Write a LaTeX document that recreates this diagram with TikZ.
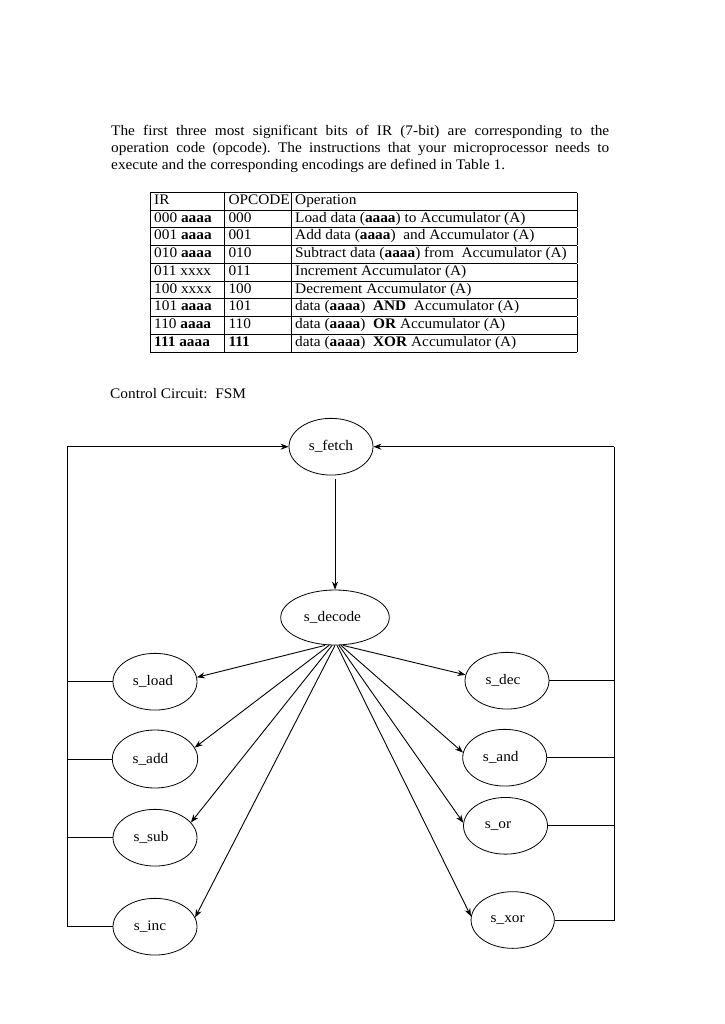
\documentclass[tikz,border=0pt]{standalone}
\usepackage{fontspec}
\setmainfont{Liberation Serif}[FakeStretch=1.05]
\usetikzlibrary{shapes.geometric,arrows.meta}
\newcommand\myfs{\fontsize{14.6pt}{16.7pt}\selectfont}
\newcommand\lsh[1]{\hspace*{#1}}
\frenchspacing
\begin{document}
\begin{tikzpicture}[x=1pt,y=-1pt,
  state/.style={draw, ellipse, line width=0.8pt, minimum width=84pt, minimum height=56.7pt, inner sep=0pt, font=\myfs},
  conn/.style={line width=0.9pt},
  arr/.style={conn, -{Stealth[length=8pt,width=6pt]}},
  txt/.style={inner sep=0pt, font=\myfs}]
\useasboundingbox (0,0) rectangle (724,1024);
\fill[white] (0,0) rectangle (724,1024);

% paragraph
\node[txt, anchor=base west, text width=498pt, align=justify] (para) at (111,136)
 {The first three most significant bits of IR (7-bit) are corresponding to the\linebreak
  operation code (opcode). The instructions that your microprocessor needs to\linebreak
  execute and the corresponding encodings are defined in Table 1.};

% table
\node[txt, anchor=north west] (tbl) at (150,191.7) {%
 \setlength{\tabcolsep}{4pt}\setlength{\arrayrulewidth}{0.7pt}%
 \renewcommand{\arraystretch}{1.02}%
 \begin{tabular}{|p{66.3pt}|p{58.7pt}|p{277.7pt}|}
 \hline
 IR & OPCODE & Operation\\ \hline
 000 \textbf{aaaa} & 000 & Load data (\textbf{aaaa}) to Accumulator (A)\\ \hline
 001 \textbf{aaaa} & 001 & Add data (\textbf{aaaa})\ \ and Accumulator (A)\\ \hline
 010 \textbf{aaaa} & 010 & Subtract data (\textbf{aaaa}) from\ \ Accumulator (A)\\ \hline
 011 xxxx & 011 & Increment Accumulator (A)\\ \hline
 100 xxxx & 100 & Decrement Accumulator (A)\\ \hline
 101 \textbf{aaaa} & 101 & data (\textbf{aaaa})\ \ \textbf{AND}\ \ Accumulator (A)\\ \hline
 110 \textbf{aaaa} & 110 & data (\textbf{aaaa})\ \ \textbf{OR} Accumulator (A)\\ \hline
 \textbf{111 aaaa} & \textbf{111} & data (\textbf{aaaa})\ \ \textbf{XOR} Accumulator (A)\\ \hline
 \end{tabular}};

\node[txt, anchor=base west] (title) at (110,398) {Control Circuit:\ \ FSM};

% states
\node[state] (fetch) at (331,446.7) {s\_fetch};
\node[state, minimum width=108.6pt, minimum height=55pt] (decode) at (335,617.5) {s\_decode\lsh{5pt}};
\node[state] (load) at (155,681.7) {s\_load\lsh{4pt}};
\node[state, minimum width=85.4pt, minimum height=58pt] (add) at (155,759) {s\_add\lsh{9pt}};
\node[state] (sub) at (155,837.7) {s\_sub\lsh{8pt}};
\node[state] (inc) at (155,926.7) {s\_inc\lsh{10pt}};
\node[state] (dec) at (507,680.7) {s\_dec\lsh{8pt}};
\node[state] (and) at (504.7,757.7) {s\_and\lsh{8pt}};
\node[state] (or) at (505.5,825.8) {s\_or\lsh{15pt}};
\node[state, minimum width=83.3pt] (xor) at (512.7,920) {s\_xor\lsh{10pt}};

\coordinate (L) at (67,446.7);
\coordinate (R) at (614,446.7);

% fetch -> decode
\draw[arr] ([yshift=-4pt]fetch.south -| decode.north) -- (decode.north);

% fan out
\draw[arr] ([xshift=-10pt]decode.south) -- (load.6);
\draw[arr] ([xshift=-6pt]decode.south) -- (add.16);
\draw[arr] ([xshift=-3pt]decode.south) -- (sub.23);
\draw[arr] ([xshift=0pt]decode.south) -- (inc.13);
\draw[arr] ([xshift=2pt]decode.south) -- (xor.175);
\draw[arr] ([xshift=4pt]decode.south) -- (or.176);
\draw[arr] ([xshift=6pt]decode.south) -- (and.173);
\draw[arr] ([xshift=8pt]decode.south) -- (dec.172);

% left return
\draw[conn] (inc.west) -- (inc.west -| L) -- (L);
\draw[arr] (L) -- (fetch.west);
\draw[conn] (load.west) -- (load.west -| L);
\draw[conn] (add.west) -- (add.west -| L);
\draw[conn] (sub.west) -- (sub.west -| L);

% right return
\draw[conn] (xor.east) -- (xor.east -| R) -- (R);
\draw[arr] (R) -- (fetch.east);
\draw[conn] (dec.east) -- (dec.east -| R);
\draw[conn] (and.east) -- (and.east -| R);
\draw[conn] (or.east) -- (or.east -| R);
\end{tikzpicture}
\end{document}
